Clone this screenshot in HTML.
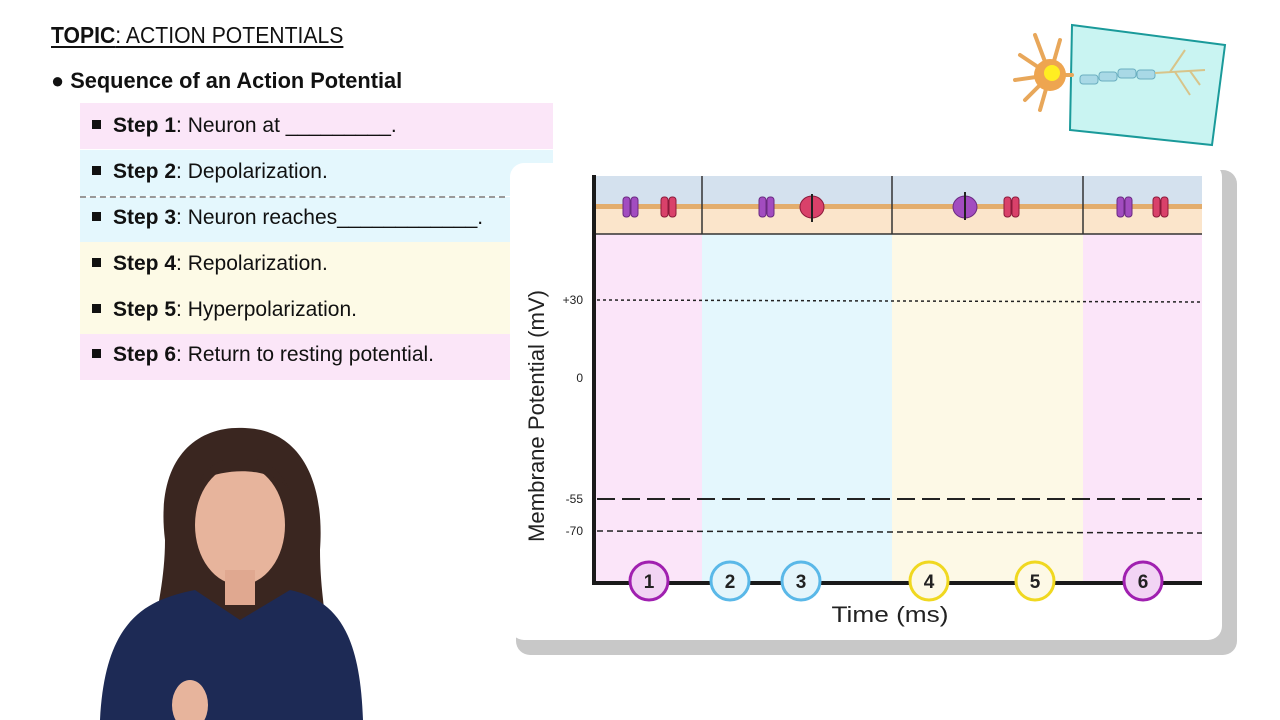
<!DOCTYPE html>
<html><head><meta charset="utf-8"><style>
body{margin:0;width:1280px;height:720px;background:#fff;position:relative;overflow:hidden;font-family:"Liberation Sans",sans-serif}
.a{position:absolute}
.t{position:absolute;white-space:nowrap;transform-origin:0 50%;color:#111}
.row{position:absolute;left:80px;height:46px}
.st{font-size:21px;left:92px}
.sq{display:inline-block;width:9px;height:9px;background:#111;margin-right:12px;vertical-align:middle;position:relative;top:-2px}
</style></head><body>
<div class="t" style="left:51px;top:22px;font-size:23px;transform:scaleX(0.92);text-decoration:underline;text-underline-offset:3px"><b>TOPIC</b>: ACTION POTENTIALS</div>
<div class="t" style="left:51px;top:68px;font-size:22px;transform:scaleX(0.99)"><b>● Sequence of an Action Potential</b></div>
<div class="row" style="top:103px;width:473px;background:#fbe6f8"></div>
<div class="row" style="top:150px;width:473px;background:#e4f7fd"></div>
<div class="row" style="top:197px;width:430px;background:#e4f7fd"></div>
<div class="a" style="left:80px;top:196px;width:425px;border-top:2px dashed #999"></div>
<div class="row" style="top:242px;width:430px;height:92px;background:#fdfae6"></div>
<div class="row" style="top:334px;width:430px;background:#fbe6f8"></div>
<div class="t st" style="top:114px"><span class="sq"></span><b>Step 1</b>: Neuron at _________.</div>
<div class="t st" style="top:160px"><span class="sq"></span><b>Step 2</b>: Depolarization.</div>
<div class="t st" style="top:206px"><span class="sq"></span><b>Step 3</b>: Neuron reaches____________.</div>
<div class="t st" style="top:252px"><span class="sq"></span><b>Step 4</b>: Repolarization.</div>
<div class="t st" style="top:298px"><span class="sq"></span><b>Step 5</b>: Hyperpolarization.</div>
<div class="t st" style="top:343px"><span class="sq"></span><b>Step 6</b>: Return to resting potential.</div>

<svg class="a" style="left:1000px;top:15px" width="240" height="140">
<polygon points="72,10 225,30 212,130 70,115" fill="#c9f4f2" stroke="#1a9a9a" stroke-width="2"/>
<g stroke="#e8a75a" stroke-width="4" fill="none" stroke-linecap="round"><path d="M50,60 L20,40 M50,60 L15,65 M50,60 L25,85 M50,60 L40,95 M50,60 L60,25 M50,60 L35,20 M50,60 L72,60"/></g>
<circle cx="50" cy="60" r="16" fill="#eea550"/><circle cx="52" cy="58" r="8" fill="#ffee22"/>
<g fill="#a9d9e6" stroke="#6aaec0"><rect x="80" y="60" width="18" height="9" rx="3"/><rect x="99" y="57" width="18" height="9" rx="3"/><rect x="118" y="54" width="18" height="9" rx="3"/><rect x="137" y="55" width="18" height="9" rx="3"/></g>
<g stroke="#d8c48a" stroke-width="2" fill="none"><path d="M155,58 L205,55 M170,57 L185,35 M175,57 L190,80 M190,56 L200,70"/></g>
</svg>

<svg class="a" style="left:95px;top:420px" width="280" height="300">
<path d="M70,120 C60,40 100,5 150,8 C205,10 230,60 225,130 C225,190 240,230 230,260 L60,260 C50,220 70,180 70,120Z" fill="#3a2620"/>
<ellipse cx="145" cy="105" rx="45" ry="60" fill="#e7b49c"/>
<path d="M105,60 C120,30 175,25 195,70 C180,50 140,45 105,60Z" fill="#3a2620"/>
<rect x="130" y="150" width="30" height="35" fill="#e0a890"/>
<path d="M5,300 C10,200 50,180 100,170 L145,200 L195,170 C240,180 265,210 268,300Z" fill="#1d2a55"/>
<ellipse cx="95" cy="285" rx="18" ry="25" fill="#e7b49c"/>
</svg>

<div class="a" style="left:516px;top:170px;width:721px;height:485px;background:#c8c8c8;border-radius:14px"></div>
<div class="a" style="left:510px;top:163px;width:712px;height:477px;background:#fff;border-radius:14px"></div>
<svg class="a" style="left:0;top:0" width="1280" height="720">
<rect x="594" y="234" width="108" height="349" fill="#fbe5f9"/>
<rect x="702" y="234" width="190" height="349" fill="#e4f7fd"/>
<rect x="892" y="234" width="191" height="349" fill="#fdf9e6"/>
<rect x="1083" y="234" width="119" height="349" fill="#fbe5f9"/>
<rect x="594" y="176" width="608" height="30" fill="#d4e1ee"/>
<rect x="594" y="206" width="608" height="28" fill="#fbe5cb"/>
<rect x="594" y="204" width="608" height="5" fill="#e3ad6d"/>
<line x1="594" y1="234" x2="1202" y2="234" stroke="#333" stroke-width="1.5"/>
<g stroke="#333" stroke-width="1.5"><line x1="702" y1="176" x2="702" y2="234"/><line x1="892" y1="176" x2="892" y2="234"/><line x1="1083" y1="176" x2="1083" y2="234"/></g>
<g stroke-width="1"><g fill="#a24cc0" stroke="#6a2a80"><rect x="623" y="197" width="7" height="20" rx="3"/><rect x="631" y="197" width="7" height="20" rx="3"/><rect x="759" y="197" width="7" height="20" rx="3"/><rect x="767" y="197" width="7" height="20" rx="3"/><ellipse cx="965" cy="207" rx="12" ry="11"/><rect x="1117" y="197" width="7" height="20" rx="3"/><rect x="1125" y="197" width="7" height="20" rx="3"/></g>
<g fill="#d9416a" stroke="#8a1a3a"><rect x="661" y="197" width="7" height="20" rx="3"/><rect x="669" y="197" width="7" height="20" rx="3"/><ellipse cx="812" cy="207" rx="12" ry="11"/><rect x="1004" y="197" width="7" height="20" rx="3"/><rect x="1012" y="197" width="7" height="20" rx="3"/><rect x="1153" y="197" width="7" height="20" rx="3"/><rect x="1161" y="197" width="7" height="20" rx="3"/></g></g>
<line x1="812" y1="194" x2="812" y2="222" stroke="#222" stroke-width="2"/><line x1="965" y1="192" x2="965" y2="220" stroke="#222" stroke-width="2"/>
<line x1="597" y1="300" x2="1202" y2="302" stroke="#222" stroke-width="1.5" stroke-dasharray="3,3"/>
<line x1="597" y1="499" x2="1202" y2="499" stroke="#222" stroke-width="2" stroke-dasharray="18,7"/>
<line x1="597" y1="531" x2="1202" y2="533" stroke="#222" stroke-width="1.5" stroke-dasharray="6,4"/>
<line x1="594" y1="175" x2="594" y2="585" stroke="#1a1a1a" stroke-width="4"/>
<line x1="592" y1="583" x2="1202" y2="583" stroke="#1a1a1a" stroke-width="4"/>
<g font-family="Liberation Sans" font-size="12" fill="#222" text-anchor="end"><text x="583" y="304">+30</text><text x="583" y="382">0</text><text x="583" y="503">-55</text><text x="583" y="535">-70</text></g>
<text transform="translate(544,416) rotate(-90)" text-anchor="middle" font-family="Liberation Sans" font-size="22" fill="#222" textLength="252" lengthAdjust="spacingAndGlyphs">Membrane Potential (mV)</text>
<text x="890" y="622" text-anchor="middle" font-family="Liberation Sans" font-size="22" fill="#222" textLength="117" lengthAdjust="spacingAndGlyphs">Time (ms)</text>
<g font-family="Liberation Sans" font-size="19" font-weight="bold" text-anchor="middle" stroke-width="3">
<circle cx="649" cy="581" r="19" fill="#f2d4f4" stroke="#a020b0"/><text x="649" y="588" fill="#222">1</text>
<circle cx="730" cy="581" r="19" fill="#e4f5fb" stroke="#5ab8e8"/><text x="730" y="588" fill="#222">2</text>
<circle cx="801" cy="581" r="19" fill="#e4f5fb" stroke="#5ab8e8"/><text x="801" y="588" fill="#222">3</text>
<circle cx="929" cy="581" r="19" fill="#fdf9e6" stroke="#f0d820"/><text x="929" y="588" fill="#222">4</text>
<circle cx="1035" cy="581" r="19" fill="#fdf9e6" stroke="#f0d820"/><text x="1035" y="588" fill="#222">5</text>
<circle cx="1143" cy="581" r="19" fill="#f2d4f4" stroke="#a020b0"/><text x="1143" y="588" fill="#222">6</text>
</g>
</svg>
</body></html>
